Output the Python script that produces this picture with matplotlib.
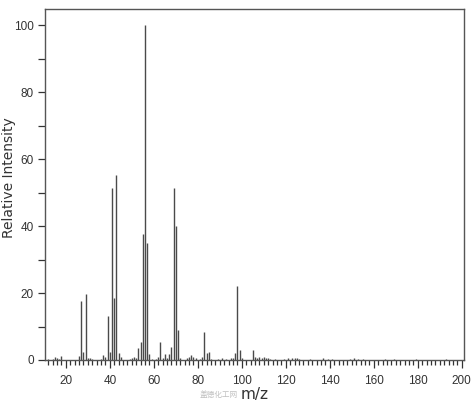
import matplotlib
matplotlib.use("Agg")
import matplotlib.pyplot as plt
from matplotlib.ticker import MultipleLocator

plt.rcParams['font.family'] = ['DejaVu Sans', 'Noto Sans CJK SC']

# peaks (m/z, relative intensity)
mz = [12, 14, 15, 16, 17, 18, 26, 27, 28, 29, 30, 31, 32, 36, 37, 38, 39, 40,
      41, 42, 43, 44, 45, 49, 50, 51, 52, 53, 54, 55, 56, 57, 58, 59, 61, 62,
      63, 64, 65, 66, 67, 68, 69, 70, 71, 72, 75, 76, 77, 78, 79, 81, 82, 83,
      84, 85, 86, 89, 91, 93, 95, 96, 97, 98, 99, 100, 105, 106, 107, 108,
      109, 110, 111, 112, 113, 115, 119, 121, 123, 124, 125, 126, 131, 137,
      139, 141, 149, 151, 153, 155, 165, 169, 179, 193]
intensity = [0.3, 0.4, 0.8, 0.5, 0.4, 1.2, 1.2, 17.5, 2.5, 19.7, 0.5, 0.6,
             0.3, 0.3, 1.6, 1.0, 13.0, 2.5, 51.5, 18.5, 55.3, 2.0, 0.8, 0.3,
             0.6, 0.9, 0.6, 3.5, 5.3, 37.5, 100.0, 34.8, 1.8, 0.3, 0.3, 0.8,
             5.3, 0.5, 1.8, 0.5, 1.8, 4.0, 51.5, 40.0, 9.0, 0.5, 0.6, 0.9,
             1.5, 0.8, 0.5, 0.3, 1.0, 8.3, 2.0, 2.5, 0.4, 0.3, 0.5, 0.4, 0.5,
             0.7, 2.0, 22.0, 3.0, 0.5, 3.0, 1.0, 0.7, 1.0, 0.6, 0.8, 0.5,
             0.6, 0.4, 0.4, 0.3, 0.6, 0.5, 0.7, 0.5, 0.4, 0.3, 0.5, 0.4, 0.4,
             0.4, 0.5, 0.3, 0.3, 0.3, 0.3, 0.3, 0.3]

fig = plt.figure(figsize=(4.74, 4.16), dpi=100)
ax = fig.add_axes([45 / 474, 1 - 360 / 416, 419 / 474, 351 / 416])

ax.vlines(mz, 0, intensity, colors='#4a4a4a', linewidth=1.0)

ax.set_xlim(10.5, 201)
ax.set_ylim(0, 104.8)
ax.xaxis.set_major_locator(MultipleLocator(20))
ax.xaxis.set_minor_locator(MultipleLocator(2))
ax.yaxis.set_major_locator(MultipleLocator(20))
ax.yaxis.set_minor_locator(MultipleLocator(10))
ax.tick_params(axis='both', which='both', direction='out', color='#333333',
               labelcolor='#333333', labelsize=8.5, width=0.9)
for lab in ax.get_xticklabels() + ax.get_yticklabels():
    lab.set_family('Liberation Sans')
ax.tick_params(axis='x', which='major', length=6, pad=5)
ax.tick_params(axis='x', which='minor', length=3.5)
ax.tick_params(axis='y', which='major', length=5, pad=3)
ax.tick_params(axis='y', which='minor', length=5, labelleft=False)
for s in ax.spines.values():
    s.set_color('#555555')
    s.set_linewidth(1.0)

fig.text(9 / 474, 1 - 178 / 416, 'Relative Intensity', rotation=90,
         ha='center', va='center', fontsize=10, color='#333333')
fig.text(255 / 474, 1 - 395 / 416, 'm/z', ha='center', va='center',
         fontsize=11, color='#333333')
fig.text(238 / 474, 1 - 395 / 416, '盖德化工网', ha='right', va='center',
         fontsize=5.5, color='#c0c0c0', family=['Noto Sans CJK SC'])

fig.savefig('out.png', dpi=100)
